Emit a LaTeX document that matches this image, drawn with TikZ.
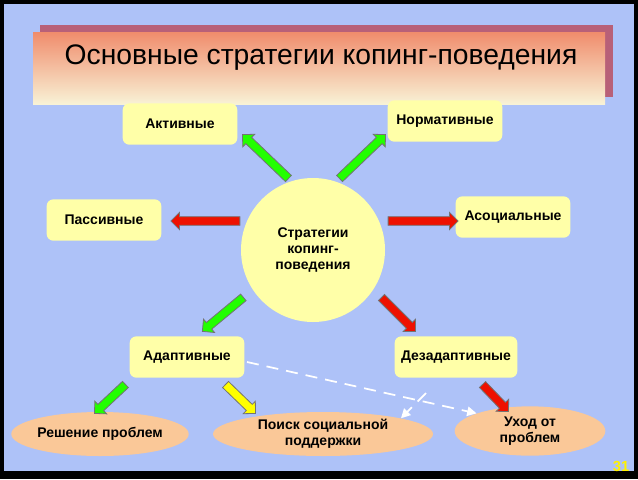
\documentclass[tikz,border=0pt]{standalone}
\usepackage{fontspec}
\setmainfont{Liberation Sans}
\usetikzlibrary{shapes.arrows,calc,arrows.meta,shapes.geometric}
\definecolor{bg}{HTML}{AEC2F8}
\definecolor{boxy}{HTML}{FFFFA8}
\definecolor{ell}{HTML}{FAC898}
\definecolor{shad}{HTML}{B86078}
\definecolor{ttop}{HTML}{F08C6C}
\definecolor{tbot}{HTML}{F8F2D6}
\definecolor{agreen}{HTML}{22FF00}
\definecolor{ared}{HTML}{EE1100}
\definecolor{ayel}{HTML}{FFFF00}
\tikzset{
 lbl/.style={font=\bfseries\fontsize{10.5}{12}\selectfont},
 ybox/.style={lbl,draw=none,fill=boxy,rounded corners=5pt,minimum width=86pt,minimum height=31pt},
 oval/.style={lbl,ellipse,fill=ell,align=center,inner sep=0pt},
 dashline/.style={white,line width=1.3pt,dash pattern=on 9pt off 6pt,-{Triangle[length=7pt,width=7pt]}}
}
\newcommand\barrow[3]{\path let \p1=($(#2)-(#1)$), \n1={atan2(\y1,\x1)}, \n2={veclen(\x1,\y1)} in
 node[single arrow,draw=black!55,line width=0.6pt,fill=#3,minimum height=\n2,minimum width=13pt,inner sep=2.6pt,single arrow head extend=3pt,rotate=\n1] at ($(#1)!0.5!(#2)$) {};}
\begin{document}
\begin{tikzpicture}[x=0.75pt,y=-0.75pt]
\useasboundingbox (0,0) rectangle (638,479);
\fill[black] (0,0) rectangle (638,479);
\fill[bg] (4,4) rectangle (634,471);
\fill[shad] (40,25) rectangle (613,97);
\shade[top color=ttop,bottom color=tbot] (33,32) rectangle (605,104);
\node (title) at (321,58) {\fontsize{21.2}{25}\selectfont Основные стратегии копинг-поведения};
\node[ybox] (akt) at (180,124) {Активные};
\node[ybox] (norm) at (445,121) {Нормативные};
\node[ybox] (pas) at (104,220) {Пассивные};
\node[ybox] (aso) at (513,217) {Асоциальные};
\node[ybox] (adap) at (187,357) {Адаптивные};
\node[ybox,minimum width=92pt] (dez) at (456,357) {Дезадаптивные};
\node[lbl,circle,fill=boxy,minimum size=108pt,align=center] (c) at (313,250) {Стратегии\\копинг-\\поведения};
\node[oval,minimum width=105pt,minimum height=33pt] (resh) at (100,434) {Решение проблем};
\node[oval,minimum width=165pt,minimum height=33pt] (poisk) at (323,434) {Поиск социальной\\поддержки};
\node[oval,minimum width=113pt,minimum height=37pt] (uhod) at (530,431) {Уход от\\проблем};
\coordinate (a1) at (290,180); \coordinate (b1) at (244,136);
\coordinate (a2) at (338,180); \coordinate (b2) at (384,136);
\coordinate (a3) at (242,221); \coordinate (b3) at (173,221);
\coordinate (a4) at (386,221); \coordinate (b4) at (456,221);
\coordinate (a5) at (245,296); \coordinate (b5) at (204,330);
\coordinate (a6) at (380,296); \coordinate (b6) at (414,330);
\coordinate (a7) at (127,383); \coordinate (b7) at (96,412);
\coordinate (a8) at (224,383); \coordinate (b8) at (254,412);
\coordinate (a9) at (481,383); \coordinate (b9) at (507,410);
\barrow{a1}{b1}{agreen}
\barrow{a2}{b2}{agreen}
\barrow{a3}{b3}{ared}
\barrow{a4}{b4}{ared}
\barrow{a5}{b5}{agreen}
\barrow{a6}{b6}{ared}
\barrow{a7}{b7}{agreen}
\barrow{a8}{b8}{ayel}
\barrow{a9}{b9}{ared}
\coordinate (d1) at (247,362); \coordinate (d2) at (426,393);
\draw[dashline] (d1) -- (uhod.north west);
\draw[dashline] (d2) -- (poisk.north east);
\node[text=ayel!90!orange,font=\bfseries\fontsize{11}{13}\selectfont] (num) at (621,466) {31};
\end{tikzpicture}
\end{document}
